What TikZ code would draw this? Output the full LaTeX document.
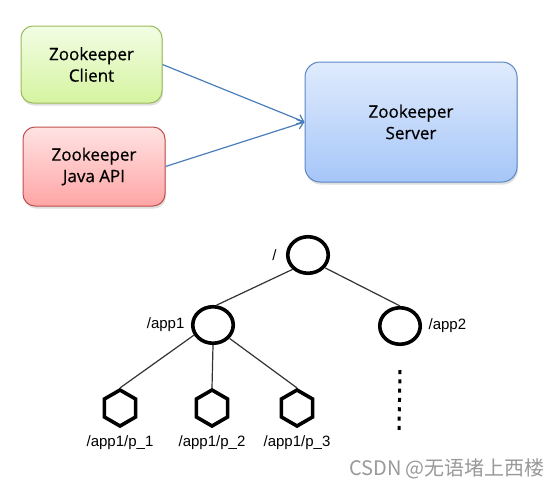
\documentclass[tikz,border=0pt]{standalone}
\usepackage{fontspec}
\setmainfont{Open Sans}[FakeBold=0.6]
\newfontfamily\treefont{Liberation Sans}
\newfontfamily\cjkfont{Noto Sans CJK SC}
\usetikzlibrary{arrows.meta,shapes.geometric,shadows}

\definecolor{clienttop}{HTML}{F2FDE4}
\definecolor{clientbot}{HTML}{D5F4A0}
\definecolor{clientdraw}{HTML}{9BBB59}
\definecolor{apitop}{HTML}{FFE3E3}
\definecolor{apibot}{HTML}{FFA5A5}
\definecolor{apidraw}{HTML}{C0504D}
\definecolor{servertop}{HTML}{E0EBFD}
\definecolor{serverbot}{HTML}{A6C6F8}
\definecolor{serverdraw}{HTML}{5A87C5}
\definecolor{arrowblue}{HTML}{4A7EBB}

\tikzset{
	zkbox/.style={draw, line width=1pt, rounded corners=12pt, align=center, inner sep=0pt,
		font=\fontsize{17}{21.5}\selectfont,
		drop shadow={shadow xshift=1pt, shadow yshift=-2.5pt, opacity=0.25}},
	zkarrow/.style={draw=arrowblue, line width=1.2pt, -{Straight Barb[length=6pt,width=10pt]}},
	znode/.style={ellipse, draw, line width=3.6pt, minimum width=40.5pt, minimum height=36.5pt, inner sep=0pt},
	pnode/.style={regular polygon, regular polygon sides=6, shape border rotate=30, draw,
		line width=3.6pt, minimum size=36pt, inner sep=0pt},
	tlabel/.style={font=\treefont\fontsize{15}{18}\selectfont},
	tline/.style={line width=1.2pt, black!80},
	dotsline/.style={line width=3pt, dash pattern=on 4pt off 5.3pt},
}

\begin{document}
\begin{tikzpicture}[x=1pt, y=-1pt]
			%%%%% START %%%%%
			\useasboundingbox (0, 0) rectangle (556, 485);
			
			\node[zkbox, draw=clientdraw, top color=clienttop, bottom color=clientbot,
				minimum width=141pt, minimum height=77pt] (client) at (91.5, 64.5) {Zookeeper\\Client};
			\node[zkbox, draw=apidraw, top color=apitop, bottom color=apibot,
				minimum width=142pt, minimum height=79pt] (api) at (94, 166.5) {Zookeeper\\Java API};
			\node[zkbox, draw=serverdraw, top color=servertop, bottom color=serverbot, rounded corners=15pt,
				minimum width=212pt, minimum height=120pt] (server) at (411, 122) {Zookeeper\\Server};
			
			\draw[zkarrow] (client.east) -- (server.west);
			\draw[zkarrow] (api.east) -- (server.west);
			
			%%%%% TREE %%%%%
			\node[znode, label={[tlabel, label distance=6pt]left:/}] (root) at (308, 255) {};
			\node[znode, label={[tlabel, label distance=3pt]left:/app1}] (app1) at (213, 325) {};
			\node[znode, label={[tlabel, label distance=3pt]right:/app2}] (app2) at (400, 326) {};
			
			\node[pnode, label={[tlabel, label distance=4pt]below:/app1/p\_1}] (p1) at (120, 408) {};
			\node[pnode, label={[tlabel, label distance=4pt]below:/app1/p\_2}] (p2) at (212, 408) {};
			\node[pnode, label={[tlabel, label distance=4pt]below:/app1/p\_3}] (p3) at (297, 408) {};
			
			\draw[tline] (root.223) -- (app1.80);
			\draw[tline] (root.-37) -- (app2.north);
			\draw[tline] (app1.208) -- (p1.north);
			\draw[tline] (app1.south) -- (p2.north);
			\draw[tline] (app1.-39) -- (p3.north);
			
			\coordinate (dotsend) at (399, 430);
			\draw[dotsline] ([yshift=-24pt]app2.south) -- (dotsend);
			
			\node[font=\cjkfont\fontsize{20}{24}\selectfont, text=black!40] (mark) at (447, 469) {CSDN @无语堵上西楼};
			%%%%% END %%%%%
\end{tikzpicture}
\end{document}
